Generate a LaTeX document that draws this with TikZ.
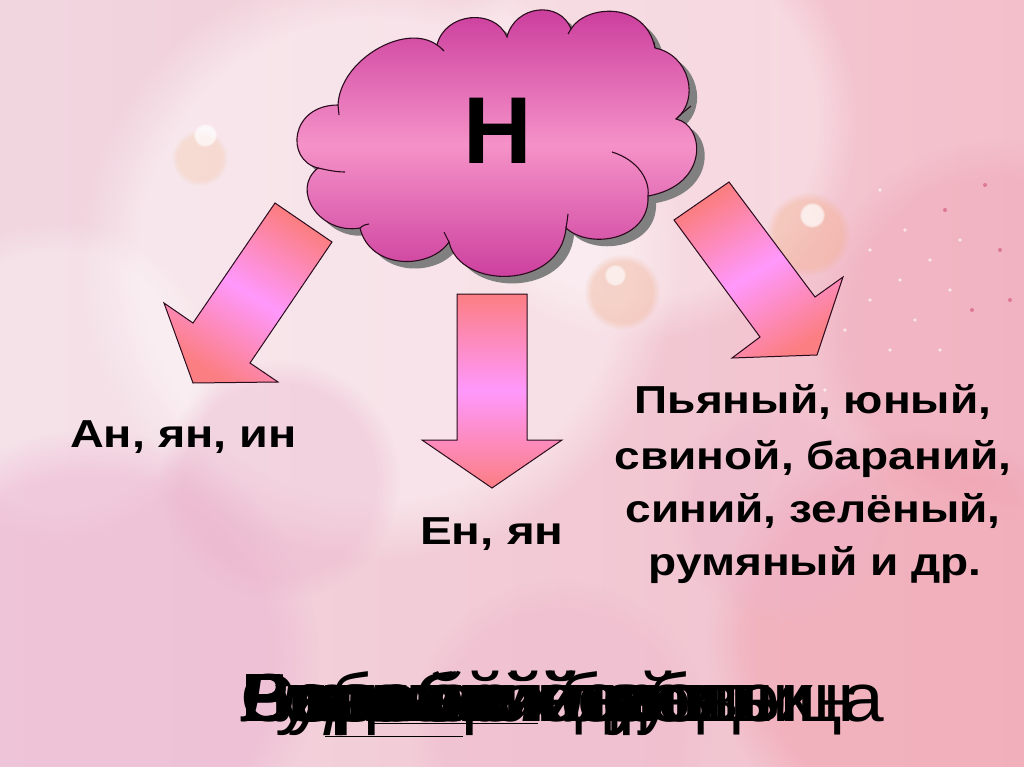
\documentclass[tikz,border=0pt]{standalone}
\usepackage{fontspec}
\setmainfont{Liberation Sans}
\usetikzlibrary{fadings}
\definecolor{bgA}{HTML}{F1D6E0}
\definecolor{bgB}{HTML}{F3BFCB}
\definecolor{cloudTop}{HTML}{C8389A}
\definecolor{cloudMid}{HTML}{F592C8}
\definecolor{arrEnd}{HTML}{FB7E82}
\definecolor{arrMid}{HTML}{FF98FC}
\definecolor{edge}{HTML}{2A0A1C}
\definecolor{shadowgray}{HTML}{808080}
\definecolor{blobA}{HTML}{EDB3D2}
\definecolor{blobB}{HTML}{EE9AAE}
\definecolor{blobC}{HTML}{F0939F}
\definecolor{blobD}{HTML}{EBB2CC}
\definecolor{blobE}{HTML}{EFB4CC}
\definecolor{pearlA}{HTML}{F0B090}
\definecolor{pearlB}{HTML}{F3B08C}
\definecolor{pearlC}{HTML}{F5C7A6}
\definecolor{dotred}{HTML}{D0486E}
\tikzset{
  blob/.style={path fading=circle with fuzzy edge 20 percent},
  blockarrow/.style={draw=edge, line width=1pt, line join=miter},
  bodytext/.style={inner sep=0pt, font=\bfseries\fontsize{39}{47}\selectfont},
  bottomtext/.style={inner sep=0pt, anchor=base west, font=\fontsize{68}{80}\selectfont},
}
\newcommand{\wide}[1]{\scalebox{1.18}[1]{#1}}
\newcommand{\wideb}[1]{\scalebox{1.1}[1]{#1}}
\begin{document}
\begin{tikzpicture}[x=1pt,y=-1pt]
\useasboundingbox (0,0) rectangle (1024,767);
% background
\fill[left color=bgA, right color=bgB] (0,0) rectangle (1024,767);
\fill[white, blob, fill opacity=0.45] (380,260) circle (300);
\fill[white, blob, fill opacity=0.35] (640,120) circle (220);
\fill[white, blob, fill opacity=0.3] (60,380) circle (160);
\fill[blobA, blob, fill opacity=0.5] (90,660) circle (230);
\fill[blobB, blob, fill opacity=0.3] (1000,330) circle (190);
\fill[blobC, blob, fill opacity=0.35] (920,640) circle (210);
\fill[blobD, blob, fill opacity=0.35] (280,480) circle (120);
\fill[blobE, blob, fill opacity=0.35] (560,730) circle (150);
\fill[blobE, blob, fill opacity=0.35] (780,510) circle (110);
\fill[pearlA, blob, fill opacity=0.4] (622,292) circle (38);
\fill[pearlB, blob, fill opacity=0.4] (808,234) circle (42);
\fill[pearlC, blob, fill opacity=0.35] (200,158) circle (28);
\fill[white, blob, fill opacity=0.7] (812,215) circle (13);
\fill[white, blob, fill opacity=0.6] (615,275) circle (11);
\fill[white, blob, fill opacity=0.7] (205,135) circle (12);
\foreach \p in {(880,190),(905,230),(930,260),(870,300),(915,320),(950,290),(890,350),(960,240),(845,330),(900,280),(940,350),(870,250),(825,390),(860,410)}
  \fill[white, fill opacity=0.65] \p circle (1.8);
\foreach \p in {(985,185),(1000,250),(972,310),(1010,300),(945,210)}
  \fill[dotred, fill opacity=0.55] \p circle (2);

% cloud
\def\cloudpath{(338,105) .. controls (340,60) and (405,22) .. (437,45)
 .. controls (445,12) and (495,8) .. (507,37)
 .. controls (515,5) and (560,0) .. (571,29)
 .. controls (585,5) and (645,0) .. (655,48)
 .. controls (690,55) and (700,100) .. (676,119)
 .. controls (705,125) and (710,185) .. (648,196)
 .. controls (650,240) and (590,250) .. (566,228)
 .. controls (560,290) and (460,290) .. (449,242)
 .. controls (430,270) and (370,270) .. (360,228)
 .. controls (320,235) and (290,190) .. (318,168)
 .. controls (285,160) and (290,105) .. (338,105) -- cycle}
\fill[shadowgray, shift={(8,7)}] \cloudpath;
\shade[top color=cloudTop, bottom color=cloudTop, middle color=cloudMid] \cloudpath;
\draw[edge, line width=1.1pt] \cloudpath;
\begin{scope}[edge, line width=1.1pt]
\draw (612,152) .. controls (638,160) and (650,180) .. (648,196);
\draw (676,119) .. controls (681,114) and (686,110) .. (691,106);
\draw (318,168) .. controls (327,170) and (336,172) .. (345,172);
\draw (566,228) .. controls (567,222) .. (568,214);
\draw (449,242) .. controls (447,237) .. (444,232);
\draw (360,228) .. controls (364,225) .. (369,224);
\draw (437,45) .. controls (440,47) .. (444,51);
\draw (571,29) .. controls (570,32) .. (568,34);
\draw (655,48) .. controls (655,45) .. (654,42);
\draw (338,105) .. controls (339,110) .. (339,115);
\end{scope}
\node[inner sep=0pt, font=\bfseries\fontsize{95}{100}\selectfont] (n) at (498,131) {Н};

% arrows
\path[blockarrow, top color=arrEnd, bottom color=arrEnd, middle color=arrMid, shading angle=-32]
  (275,203) -- (332,242) -- (250,363) -- (278,382) -- (193,383) -- (164,303) -- (193,323) -- cycle;
\path[blockarrow, top color=arrEnd, bottom color=arrEnd, middle color=arrMid]
  (457,294) -- (527,294) -- (527,440) -- (562,440) -- (492,488) -- (422,440) -- (457,440) -- cycle;
\path[blockarrow, top color=arrEnd, bottom color=arrEnd, middle color=arrMid, shading angle=31]
  (674,220) -- (729,182) -- (815,297) -- (843,277) -- (817,355) -- (732,358) -- (760,337) -- cycle;

% texts
\node[bodytext, anchor=base west] (t1) at (70,447) {\scalebox{1.2}[1]{Ан, ян, ин}};
\node[bodytext, anchor=base west] (t2) at (420,544) {\scalebox{1.22}[1]{Ен, ян}};
\node[bodytext, anchor=base] (r1) at (813,413) {\wide{Пьяный, юный,}};
\node[bodytext, anchor=base] (r2) at (813,469) {\wide{свиной, бараний,}};
\node[bodytext, anchor=base] (r3) at (813,522) {\wide{синий, зелёный,}};
\node[bodytext, anchor=base] (r4) at (815,575) {\wide{румяный и др.}};

% overlapping bottom words
\node[bottomtext] (b1) at (240,721) {\wideb{Воробьиная птица}};
\node[bottomtext] (b2) at (240,721) {\wideb{Глиняный кувшин}};
\node[bottomtext] (b3) at (240,721) {\wideb{Серебряный век}};
\node[bottomtext] (b4) at (240,721) {\wideb{Ветреный день}};
\node[bottomtext] (b5) at (240,721) {\wideb{Ржаной хлеб}};
\node[bottomtext] (b6) at (240,721) {\wideb{Бар\underline{\itshape аний} бок}};
\node[bottomtext] (b7) at (240,721) {\wideb{Лебяжий пух}};
\node[bottomtext] (b8) at (240,721) {\wideb{Бу\underline{\itshape рый} медведь}};
\node[bottomtext] (b9) at (240,721) {\wideb{Гусиное перо}};
\end{tikzpicture}
\end{document}
